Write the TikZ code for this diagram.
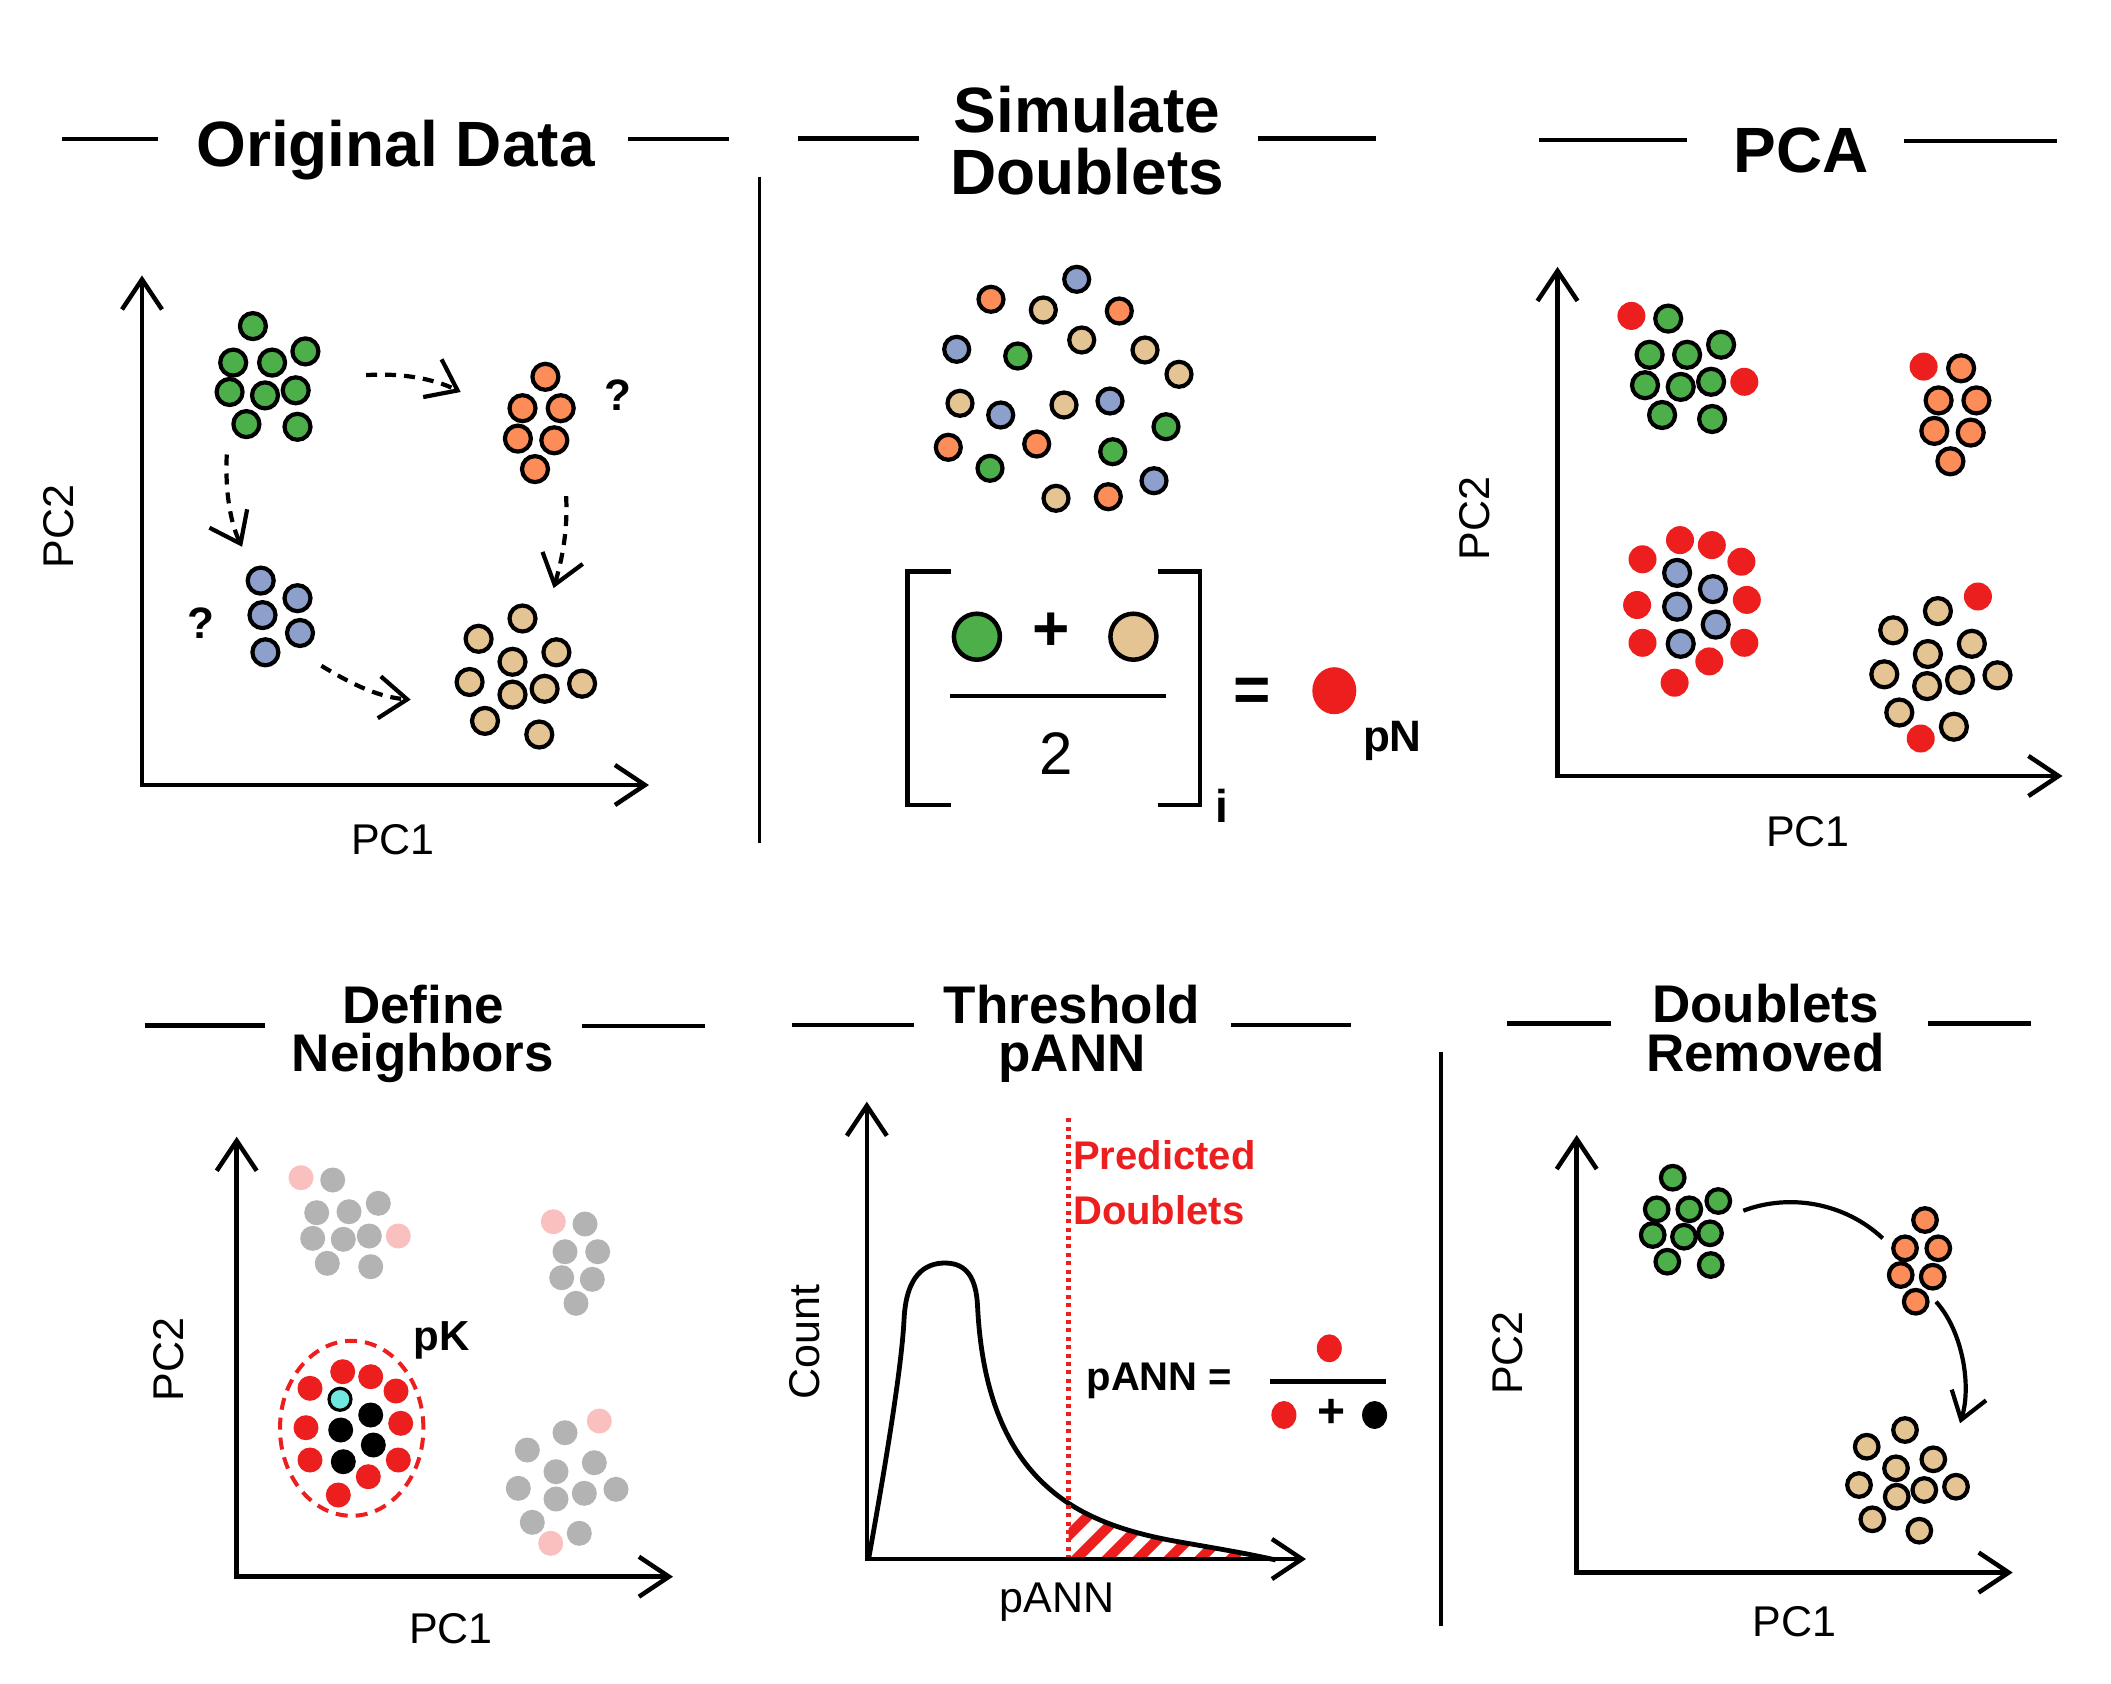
\documentclass[tikz,border=0pt]{standalone}
\usepackage{fontspec}
\setmainfont{Liberation Sans}
\usetikzlibrary{arrows.meta}
\definecolor{cgreen}{RGB}{77,175,74}
\definecolor{corange}{RGB}{252,141,89}
\definecolor{cblue}{RGB}{141,160,203}
\definecolor{ctan}{RGB}{229,196,148}
\definecolor{cred}{RGB}{236,30,30}
\definecolor{cgray}{RGB}{179,179,179}
\definecolor{cpink}{RGB}{250,192,192}
\definecolor{ccyan}{RGB}{112,232,224}
\newcommand\cellsB[3][13]{\foreach \x/\y in {#3} \filldraw[celldot, fill=#2] (\x,\y) circle[radius=#1pt];}
\newcommand\cellsF[3][13]{\foreach \x/\y in {#3} \fill[#2] (\x,\y) circle[radius=#1pt];}
\begin{document}
\begin{tikzpicture}[x=1pt,y=-1pt,
  celldot/.style={draw=black, line width=4.2pt},
  axis/.style={line width=4.5pt, line join=miter, {Straight Barb[length=30pt,width=40pt]}-{Straight Barb[length=30pt,width=40pt]}},
  titleline/.style={line width=4.5pt},
  sepline/.style={line width=3.8pt},
  bigtitle/.style={font=\fontsize{64}{62.3}\selectfont\bfseries, align=center, inner sep=0pt},
  smalltitle/.style={font=\fontsize{53}{48.4}\selectfont\bfseries, align=center, inner sep=0pt},
  axlabel/.style={font=\fontsize{43}{43}\selectfont, inner sep=0pt},
  dasharrow/.style={line width=4.2pt, dash pattern=on 11pt off 8pt, -{Straight Barb[length=28pt,width=42pt]}},
  solidarrow/.style={line width=4.2pt},
]
\fill[white] (0,0) rectangle (2111,1683);
\useasboundingbox (0,0) rectangle (2111,1683);

% ================= Panel 1: Original Data =================
\draw[titleline] (62.3,139) -- (158,139);
\draw[titleline] (628,139) -- (728.8,139);
\node[bigtitle, anchor=base] (t1) at (395.5,166) {Original Data};
\coordinate (s1a) at (759.4,176.7); \coordinate (s1b) at (759.4,843);
\draw[sepline] (s1a) -- (s1b);
\coordinate (a1y) at (142,275.4); \coordinate (a1o) at (142,785); \coordinate (a1x) at (649,785);
\draw[axis] (a1y) -- (a1o) -- (a1x);
\node[axlabel, rotate=90] (pc2a) at (58.8,526.7) {PC2};
\node[axlabel] (pc1a) at (393,840) {PC1};
\cellsB{cgreen}{252.9/326.1, 233.2/362.6, 272.1/362.6, 305.4/351.4, 229.6/392.0, 265/395.4, 295.7/390.3, 246.4/424.1, 297.5/426.8}
\cellsB{corange}{545.4/376.8, 522.5/408.2, 560.7/408.2, 517.9/438.6, 554.3/440.3, 535/469.1}
\cellsB{cblue}{260.7/580.6, 297.5/598.2, 262.5/615.1, 300/633, 265.4/652.3}
\cellsB{ctan}{522.5/618.5, 478.6/638.8, 556.4/652.3, 512.5/661.8, 469.6/682, 512.5/694.6, 544.6/688.8, 582.1/683.7, 485/720.9, 539.3/734.5}
\node[font=\fontsize{44}{44}\selectfont\bfseries, inner sep=0pt] (q1) at (618,395.4) {?};
\node[font=\fontsize{44}{44}\selectfont\bfseries, inner sep=0pt] (q2) at (200.7,623.6) {?};
\coordinate (d1s) at (366.1,375.1); \coordinate (d1e) at (460.7,392);
\coordinate (d2s) at (226.8,454.5); \coordinate (d2e) at (242.1,546.8);
\coordinate (d3s) at (566.1,496.1); \coordinate (d3e) at (553.6,588.1);
\coordinate (d4s) at (321.4,665.8); \coordinate (d4e) at (410.7,699.6);
\draw[dasharrow] (d1s) .. controls (400,373) and (432,378) .. (d1e);
\draw[dasharrow] (d2s) .. controls (225,490) and (230,522) .. (d2e);
\draw[dasharrow] (d3s) .. controls (568,530) and (562,560) .. (d3e);
\draw[dasharrow] (d4s) .. controls (345,680) and (375,697) .. (d4e);

% ================= Panel 2: Simulate Doublets =================
\draw[titleline] (797.7,138.3) -- (918.8,138.3);
\draw[titleline] (1257.5,138.3) -- (1376,138.3);
\node[bigtitle] (t2) at (1087,140.5) {Simulate\\Doublets};
\cellsB[12.5]{cblue}{1076.7/279.3, 956.7/349.3, 1000.7/415, 1110/401, 1154/480.7}
\cellsB[12.5]{corange}{991/299.3, 1119.3/311, 948.3/447.3, 1036.7/444, 1108.3/496.7}
\cellsB[12.5]{ctan}{1043.3/310, 1081.7/340, 1145/350, 1179/374.3, 960/403.3, 1064/405, 1056/498.3}
\cellsB[12.5]{cgreen}{1017.7/356, 1166/426.7, 1112.7/451.7, 990/468.3}
\draw[line width=4.5pt] (951.4,571.7) -- (907.7,571.7) -- (907.7,805) -- (951.4,805);
\draw[line width=4.5pt] (1157.5,571.7) -- (1200,571.7) -- (1200,805) -- (1157.5,805);
\filldraw[draw=black, line width=4.5pt, fill=cgreen] (976.9,636.7) circle[radius=23pt];
\filldraw[draw=black, line width=4.5pt, fill=ctan] (1133.4,636.7) circle[radius=23pt];
\node[font=\fontsize{64}{64}\selectfont\bfseries, inner sep=0pt] (plus1) at (1050.9,631.7) {+};
\draw[line width=4.5pt] (950.3,696) -- (1166,696);
\node[font=\fontsize{60}{60}\selectfont, inner sep=0pt] (two) at (1055.7,753.3) {2};
\node[font=\fontsize{46}{46}\selectfont\bfseries, inner sep=0pt] (sub) at (1222.2,805.8) {i};
\node[font=\fontsize{64}{64}\selectfont\bfseries, inner sep=0pt] (eq1) at (1251.8,695) {=};
\fill[cred] (1334.3,690.7) ellipse[x radius=22pt, y radius=23.5pt];
\node[font=\fontsize{44}{44}\selectfont\bfseries, inner sep=0pt, anchor=base west] (pN) at (1362.8,751.7) {pN};

% ================= Panel 3: PCA =================
\draw[titleline] (1538.8,140) -- (1687,140);
\draw[titleline] (1904,141) -- (2057,141);
\node[bigtitle, anchor=base] (t3) at (1801,172.7) {PCA};
\coordinate (a3y) at (1557.5,266.9); \coordinate (a3o) at (1557.5,776); \coordinate (a3x) at (2062.5,776);
\draw[axis] (a3y) -- (a3o) -- (a3x);
\node[axlabel, rotate=90] (pc2c) at (1474.2,518.3) {PC2};
\node[axlabel] (pc1c) at (1808,832) {PC1};
\cellsB{cgreen}{1668.2/318.6, 1649.6/354.8, 1687.1/354.8, 1721.1/344.7, 1645/385.2, 1680.7/386.9, 1711.1/381.8, 1662.1/415, 1712.1/419}
\cellsB{corange}{1961.1/368.3, 1938.6/400.4, 1976.4/400.4, 1934.3/430.9, 1970.7/432.6, 1950.4/461.3}
\cellsB{cblue}{1677.1/572.9, 1712.9/589.1, 1677.1/606.7, 1715.7/624.6, 1680.7/643.8}
\cellsB{ctan}{1937.9/611.1, 1893.2/630.3, 1971.8/643.8, 1927.9/654, 1884.3/674.3, 1927.1/686.1, 1960/680, 1997.5/675.3, 1899.3/712.5, 1953.9/726.7}
\cellsF[14]{cred}{1631.4/315.9, 1744.3/381.8, 1923.6/366.6, 1680/540.1, 1711.8/545.1, 1642.5/559.3, 1741.4/561.7, 1637.1/605, 1746.8/599.9, 1642.5/642.8, 1744.3/642.8, 1709.3/661.4, 1674.6/682.7, 1977.9/596.5, 1920.7/738.5}

% ================= Panel 4: Define Neighbors =================
\draw[titleline] (144.9,1025.7) -- (265.1,1025.7);
\draw[titleline] (581.9,1026) -- (704.6,1026);
\node[smalltitle] (t4) at (423,1033.7) {Define\\Neighbors};
\coordinate (a4y) at (236.7,1136.7); \coordinate (a4o) at (236.7,1576.7); \coordinate (a4x) at (673,1576.7);
\draw[axis] (a4y) -- (a4o) -- (a4x);
\node[axlabel, rotate=90] (pc2d) at (168.3,1359.8) {PC2};
\node[axlabel] (pc1d) at (451,1629) {PC1};
\cellsF[12.5]{cgray}{332.7/1180, 316.7/1212.7, 349/1211.7, 378.3/1203.3, 312.7/1238.3, 343.3/1239.3, 369.3/1236, 327.3/1263.3, 370.7/1266.7, 585/1224, 565/1251.7, 597.7/1251.7, 561.7/1277.7, 592.3/1279.3, 576/1303.3, 565/1432.7, 527.3/1450, 594.3/1462.7, 556/1471.7, 518.3/1488.3, 556/1499, 584.3/1493.3, 616/1489.3, 532.3/1522.3, 579.3/1533.3}
\cellsF[12.5]{cpink}{301/1177.7, 398.3/1236, 553.3/1221.7, 599.3/1421, 550.7/1543.3}
\cellsF[12.5]{cred}{342.7/1371.7, 370.7/1376.7, 310/1388.3, 396/1391, 306/1427.7, 400.7/1423.3, 310/1460, 398.3/1460, 368.3/1476.7, 338.3/1495}
\cellsF[12.5]{black}{370.7/1415, 340.7/1430, 373.3/1445, 343.3/1461.7}
\filldraw[draw=black, line width=3.2pt, fill=ccyan] (340,1399.3) circle[radius=11pt];
\draw[cred, line width=4pt, dash pattern=on 12pt off 8pt] (351.7,1428.3) ellipse[x radius=71.7pt, y radius=87.5pt];
\node[font=\fontsize{42}{42}\selectfont\bfseries, inner sep=0pt, anchor=base west] (pK) at (413.3,1350) {pK};

% ================= Panel 5: Threshold pANN =================
\draw[titleline] (791.6,1025) -- (914.4,1025);
\draw[titleline] (1231,1025) -- (1351.3,1025);
\node[smalltitle] (t5) at (1072,1033.7) {Threshold\\pANN};
\begin{scope}
  \clip (1068.6,1400) rectangle (1300,1559);
  \clip (868.6,1559) .. controls (890,1440) and (902,1360) .. (904,1320)
        .. controls (906,1275) and (925,1263) .. (945,1263)
        .. controls (968,1263) and (976,1280) .. (977.5,1305)
        .. controls (981,1380) and (1000,1440) .. (1040,1480)
        .. controls (1070,1510) and (1110,1530) .. (1180,1542)
        .. controls (1220,1549) and (1250,1554) .. (1275.7,1560) -- (868.6,1560) -- cycle;
  \foreach \s in {1039,1070,...,1256} \draw[cred, line width=10pt] (\s,1565) -- (\s+70,1495);
\end{scope}
\draw[line width=4.8pt, line join=round] (868.6,1559) .. controls (890,1440) and (902,1360) .. (904,1320)
        .. controls (906,1275) and (925,1263) .. (945,1263)
        .. controls (968,1263) and (976,1280) .. (977.5,1305)
        .. controls (981,1380) and (1000,1440) .. (1040,1480)
        .. controls (1070,1510) and (1110,1530) .. (1180,1542)
        .. controls (1220,1549) and (1250,1554) .. (1275.7,1560);
\coordinate (thr1) at (1068.6,1118.3); \coordinate (thr2) at (1068.6,1556.7);
\draw[cred, line width=5pt, dash pattern=on 4pt off 4.4pt] (thr1) -- (thr2);
\coordinate (a5y) at (866.8,1101.7); \coordinate (a5o) at (866.8,1559); \coordinate (a5x) at (1306,1559);
\draw[axis] (a5y) -- (a5o) -- (a5x);
\node[axlabel, rotate=90] (cnt) at (805,1342) {Count};
\node[axlabel] (pannx) at (1056.8,1602) {pANN};
\node[font=\fontsize{40}{55}\selectfont\bfseries, text=cred, align=left, inner sep=0pt, anchor=north west] (pred) at (1073,1140) {Predicted\\Doublets};
\node[font=\fontsize{40}{40}\selectfont\bfseries, inner sep=0pt, anchor=base west] (pann) at (1086.4,1390) {pANN =};
\draw[line width=4.5pt] (1270.4,1381.7) -- (1386.4,1381.7);
\fill[cred] (1329.3,1348.3) ellipse[x radius=12.5pt, y radius=14pt];
\fill[cred] (1283.9,1415) ellipse[x radius=12.5pt, y radius=14pt];
\fill[black] (1374.6,1415) ellipse[x radius=12.5pt, y radius=14pt];
\node[font=\fontsize{48}{48}\selectfont\bfseries, inner sep=0pt] (plus2) at (1331.1,1413.3) {+};

% ================= Panel 6: Doublets Removed =================
\coordinate (s2a) at (1441,1052); \coordinate (s2b) at (1441,1626);
\draw[sepline] (s2a) -- (s2b);
\draw[titleline] (1507.3,1023.3) -- (1610.6,1023.3);
\draw[titleline] (1927.8,1023.3) -- (2031,1023.3);
\node[smalltitle] (t6) at (1765.5,1028) {Doublets\\Removed};
\coordinate (a6y) at (1576.7,1135); \coordinate (a6o) at (1576.7,1572.5); \coordinate (a6x) at (2012.7,1572.5);
\draw[axis] (a6y) -- (a6o) -- (a6x);
\node[axlabel, rotate=90] (pc2f) at (1508,1353) {PC2};
\node[axlabel] (pc1f) at (1794.6,1622) {PC1};
\cellsB[11.8]{cgreen}{1672.7/1177.7, 1656.7/1209.3, 1689.3/1209.3, 1718.3/1201, 1652.7/1235, 1684/1236.7, 1710/1233.3, 1667.3/1261.7, 1710.7/1265}
\cellsB[11.8]{corange}{1925/1220, 1905/1248.3, 1938.3/1248.3, 1900.7/1275, 1932.7/1276.7, 1915.7/1301.7}
\cellsB[11.8]{ctan}{1905/1430, 1866.7/1446.7, 1933.3/1459.3, 1896/1468.3, 1859/1485, 1896.7/1496.7, 1924.3/1490, 1956/1486.7, 1872.3/1519.3, 1919.3/1530.7}
\coordinate (r1s) at (1743.3,1210.7); \coordinate (r1e) at (1882.7,1238.3);
\coordinate (r2s) at (1936,1301.7); \coordinate (r2e) at (1960,1423.3);
\draw[solidarrow] (r1s) .. controls (1790,1193) and (1845,1203) .. (r1e);
\draw[solidarrow, -{Straight Barb[length=26pt,width=36pt]}] (r2s) .. controls (1962,1330) and (1972,1385) .. (r2e);
\end{tikzpicture}
\end{document}
